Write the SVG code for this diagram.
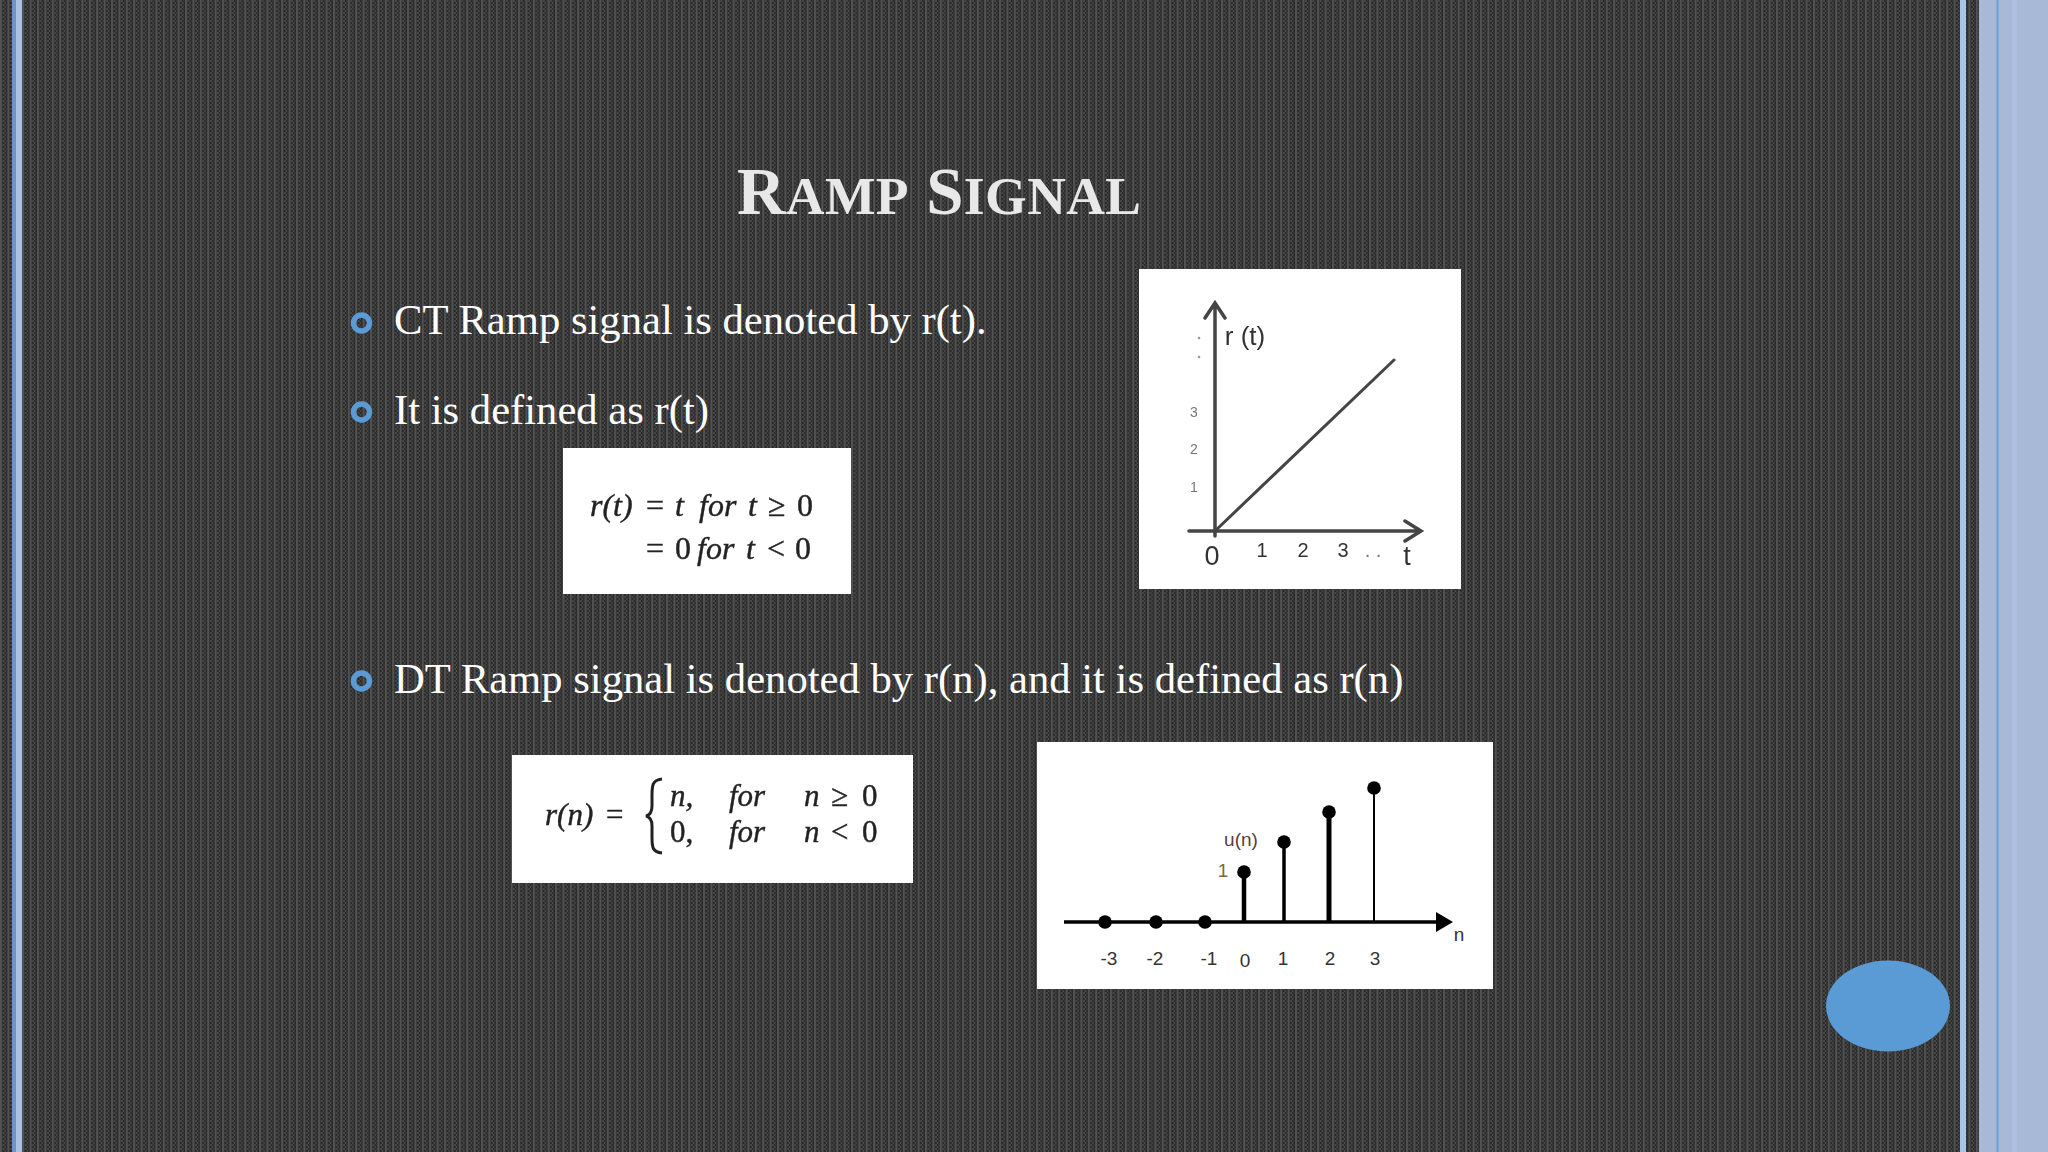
<svg xmlns="http://www.w3.org/2000/svg" width="2048" height="1152" viewBox="0 0 2048 1152">
<style>
.body{font-family:"Liberation Serif",serif;font-size:42.65px;fill:#fff}
.ring{fill:none;stroke:#5b9bd5;stroke-width:5.5}
.math{font-family:"Liberation Serif",serif;font-size:32px;fill:#222;stroke:#222;stroke-width:.4}
.m2{font-size:31px}
.it{font-style:italic}
.ax{stroke:#444;fill:none;stroke-linecap:round}
.k{stroke:#000;fill:none}
.lab{font-family:"Liberation Sans",sans-serif;font-size:20px;fill:#333;text-anchor:middle}
</style>
<defs>
<pattern id="weave" width="7.4" height="4" patternUnits="userSpaceOnUse">
<rect width="7.4" height="4" fill="#272727"/>
<rect x="0" y="0" width="2.2" height="4" fill="#525252"/>
<rect x="3" y="0" width="1.4" height="2" fill="#505050"/>
<rect x="4.4" y="2" width="1.4" height="2" fill="#505050"/>
<rect x="5.8" y="0" width="1" height="2" fill="#3c3c3c"/>
</pattern>
<filter id="soft" x="-5%" y="-5%" width="110%" height="110%"><feGaussianBlur stdDeviation="0.6"/></filter>
</defs>
<g id="background">
<rect width="2048" height="1152" fill="url(#weave)"/>
<rect x="12" y="0" width="4" height="1152" fill="#6f94c4"/>
<rect x="16" y="0" width="6" height="1152" fill="#a9c0e0"/>
<rect x="1960" y="0" width="6" height="1152" fill="#a9c4e4"/>
<rect x="1979" y="0" width="69" height="1152" fill="#a7b9d6"/>
<rect x="1996.5" y="0" width="2" height="1152" fill="#6c9fd8"/>
<rect x="2012" y="0" width="5" height="1152" fill="#adc0e0"/>
</g>
<g id="title" font-family="'Liberation Serif',serif" font-weight="bold" fill="#e8e8e8">
<text x="737" y="214" font-size="67" textLength="404">R<tspan font-size="53.5">AMP</tspan> S<tspan font-size="53.5">IGNAL</tspan></text>
</g>
<g id="bullets">
<circle class="ring" cx="361.5" cy="323" r="8"/>
<text class="body" x="394" y="334">CT Ramp signal is denoted by r(t).</text>
<circle class="ring" cx="361.5" cy="412" r="8"/>
<text class="body" x="394" y="424">It is defined as r(t)</text>
<circle class="ring" cx="361.5" cy="681" r="8"/>
<text class="body" x="394" y="693">DT Ramp signal is denoted by r(n), and it is defined as r(n)</text>
</g>
<g id="equation-ct">
<rect x="563" y="448" width="288" height="146" fill="#fff"/>
<g filter="url(#soft)" class="math">
<text class="it" x="590" y="516">r(t)</text><text x="646" y="516">=</text><text class="it" x="675" y="516">t</text><text class="it" x="699" y="516">for</text><text class="it" x="748" y="516">t</text><text x="768" y="516">≥</text><text x="797" y="516">0</text>
<text x="646" y="559">=</text><text x="675" y="559">0</text><text class="it" x="697" y="559">for</text><text class="it" x="746" y="559">t</text><text x="767" y="559">&lt;</text><text x="795" y="559">0</text>
</g>
</g>
<g id="graph-ct">
<rect x="1139" y="269" width="322" height="320" fill="#fff"/>
<g filter="url(#soft)">
<path class="ax" stroke-width="3.5" d="M1215 536V304M1205 318L1215 303L1225 318M1189 531H1420M1405 521L1421 531L1405 541"/>
<path class="ax" stroke-width="3" d="M1215 531L1394 360"/>
<circle cx="1199" cy="338" r="1.3" fill="#999"/><circle cx="1199" cy="357" r="1.3" fill="#999"/>
<g class="lab">
<text x="1245" y="345" font-size="26">r (t)</text>
<text x="1194" y="417" font-size="14" style="fill:#777">3</text>
<text x="1194" y="454" font-size="14" style="fill:#777">2</text>
<text x="1194" y="492" font-size="14" style="fill:#777">1</text>
<text x="1212" y="565" font-size="27">0</text>
<text x="1262" y="557" font-size="20">1</text>
<text x="1303" y="557" font-size="20">2</text>
<text x="1343" y="557" font-size="20">3</text>
<text x="1373" y="557" font-size="20" style="fill:#777">. .</text>
<text x="1407" y="565" font-size="27">t</text>
</g>
</g>
</g>
<g id="equation-dt">
<rect x="512" y="755" width="401" height="128" fill="#fff"/>
<g filter="url(#soft)" class="math">
<text class="it m2" x="545" y="825">r(n)</text><text class="m2" x="606" y="825">=</text>
<path d="M662 779C652 780 652 786 652 796V806C652 812 650 815 646 816C650 817 652 820 652 826V838C652 848 653 852 662 853" fill="none" stroke="#222" stroke-width="3"/>
<text class="it m2" x="670" y="806">n,</text><text class="it m2" x="729" y="806">for</text><text class="it m2" x="804" y="806">n</text><text class="m2" x="831" y="806">≥</text><text class="m2" x="862" y="806">0</text>
<text class="m2" x="670" y="842">0,</text><text class="it m2" x="729" y="842">for</text><text class="it m2" x="804" y="842">n</text><text class="m2" x="831" y="842">&lt;</text><text class="m2" x="862" y="842">0</text>
</g>
</g>
<g id="graph-dt">
<rect x="1037" y="742" width="456" height="247" fill="#fff"/>
<path class="k" stroke-width="3.5" d="M1064 922H1440"/>
<path d="M1436 912L1453 922L1436 932Z" fill="#000"/>
<path class="k" stroke-width="4.5" d="M1244 922V872"/>
<path class="k" stroke-width="3.5" d="M1284 922V842"/>
<path class="k" stroke-width="5" d="M1329 922V812"/>
<path class="k" stroke-width="2" d="M1374 922V787"/>
<g fill="#000"><circle cx="1105" cy="922" r="6.8"/><circle cx="1156" cy="922" r="6.8"/><circle cx="1205" cy="922" r="6.8"/><circle cx="1244" cy="872" r="6.8"/><circle cx="1284" cy="842" r="6.8"/><circle cx="1329" cy="812" r="6.8"/><circle cx="1374" cy="788" r="6.8"/></g>
<g class="lab" style="font-size:19px">
<text x="1241" y="846" style="fill:#5a3c3c">u(n)</text>
<text x="1223" y="877" style="fill:#7a6a35">1</text>
<text x="1459" y="941">n</text>
<text x="1109" y="965">-3</text><text x="1155" y="965">-2</text><text x="1209" y="965">-1</text><text x="1245" y="967">0</text><text x="1283" y="965">1</text><text x="1330" y="965">2</text><text x="1375" y="965">3</text>
</g>
</g>
<ellipse id="page-badge" cx="1888" cy="1006" rx="62" ry="45.5" fill="#5b9bd5"/>
</svg>
